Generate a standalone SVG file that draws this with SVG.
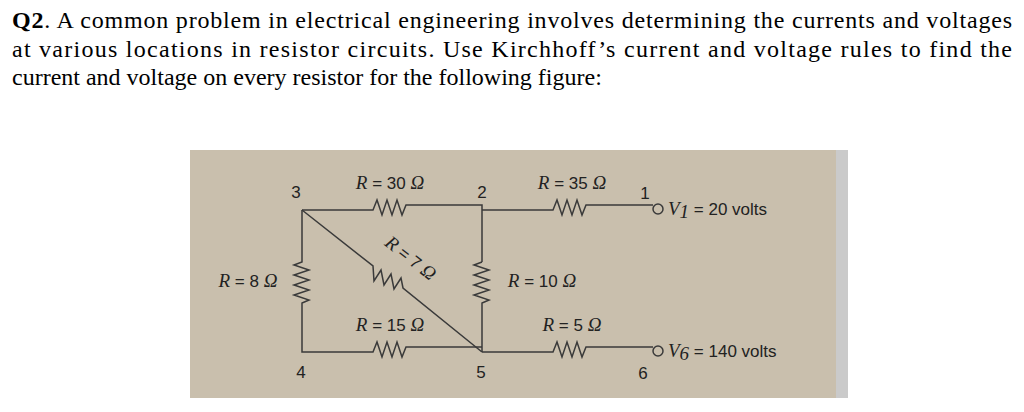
<svg xmlns="http://www.w3.org/2000/svg" width="1024" height="412" viewBox="0 0 1024 412">
<style>
.q{font-family:"Liberation Serif",serif;font-size:24px;fill:#000}
.w{stroke:#3a3a3a;stroke-width:1.5;fill:none}
.l{font-family:"Liberation Sans",Arial,sans-serif;font-size:17px;fill:#222}
.i{font-family:"Liberation Serif",serif;font-style:italic;font-size:19px}
</style>
<rect width="1024" height="412" fill="#fff"/>
<text class="q" x="12" y="28" textLength="1000" lengthAdjust="spacing"><tspan font-weight="bold">Q2</tspan>. A common problem in electrical engineering involves determining the currents and voltages</text>
<text class="q" x="12" y="57" textLength="1000" lengthAdjust="spacing">at various locations in resistor circuits. Use  Kirchhoff’s current and voltage rules to find the</text>
<text class="q" x="12" y="85">current and voltage on every resistor for the following figure:</text>
<rect x="190" y="150" width="646" height="248" fill="#c9bfad"/>
<rect x="836" y="150" width="12" height="248" fill="#cacaca"/>
<g id="connectors">
<path class="w" d="M302 210H373l4-10 5 15 5-15 5 15 5-15 5 15 4-10H482V262"/>
<path class="w" d="M482 210H553l4-10 5 15 5-15 5 15 5-15 5 15 4-10H653"/>
<path class="w" d="M302 210V262l-8 3 15 5-15 5 15 5-15 5 15 5-15 5 15 5-7 3V352H373l4-10 5 15 5-15 5 15 5-15 5 15 4-10H482"/>
<path class="w" d="M482 262l-8 3 15 5-15 5 15 5-15 5 15 5-15 5 15 5-7 3V352"/>
<path class="w" d="M482 352H553l4-10 5 15 5-15 5 15 5-15 5 15 4-10H653"/>
<path class="w" d="M302 210L373 266l1 15 7-11 3 15 7-11 3 15 7-11 2 10 L482 352"/>
<circle class="w" cx="658" cy="209" r="5"/>
<circle class="w" cx="658" cy="351" r="5"/>
</g>
<g id="labels" class="l">
<text x="296" y="198" text-anchor="middle">3</text>
<text x="482" y="198" text-anchor="middle">2</text>
<text x="301" y="378" text-anchor="middle">4</text>
<text x="481" y="378" text-anchor="middle">5</text>
<text x="645" y="199" text-anchor="middle">1</text>
<text x="643" y="379" text-anchor="middle">6</text>
<text x="390" y="189" text-anchor="middle"><tspan class="i">R</tspan> = 30 <tspan class="i">Ω</tspan></text>
<text x="572" y="189" text-anchor="middle"><tspan class="i">R</tspan> = 35 <tspan class="i">Ω</tspan></text>
<text x="248" y="287" text-anchor="middle"><tspan class="i">R</tspan> = 8 <tspan class="i">Ω</tspan></text>
<text x="542" y="287" text-anchor="middle"><tspan class="i">R</tspan> = 10 <tspan class="i">Ω</tspan></text>
<text x="390" y="331" text-anchor="middle"><tspan class="i">R</tspan> = 15 <tspan class="i">Ω</tspan></text>
<text x="572" y="331" text-anchor="middle"><tspan class="i">R</tspan> = 5 <tspan class="i">Ω</tspan></text>
<text transform="translate(407 263) rotate(38)" text-anchor="middle"><tspan class="i">R</tspan> = 7 <tspan class="i">Ω</tspan></text>
<text x="668" y="215"><tspan class="i">V</tspan><tspan class="i" font-size="10" dy="3">1</tspan><tspan dy="-3"> = 20 volts</tspan></text>
<text x="668" y="357"><tspan class="i">V</tspan><tspan class="i" font-size="10" dy="3">6</tspan><tspan dy="-3"> = 140 volts</tspan></text>
</g>
</svg>
